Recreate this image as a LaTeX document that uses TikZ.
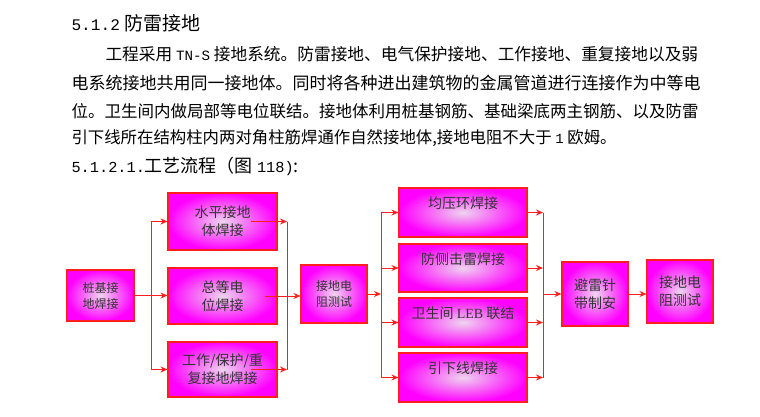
\documentclass[tikz,border=0pt]{standalone}
\usepackage{fontspec}
\setmainfont{Noto Sans CJK SC}
\setmonofont{Liberation Mono}[Scale=0.85]
\newfontfamily\latino{Liberation Serif}
\usepackage{xcolor}
\usepackage{tikz}
\usetikzlibrary{arrows.meta}

\definecolor{bordo}{RGB}{255,30,30}
\definecolor{rosa}{RGB}{238,212,238}
\definecolor{viola}{RGB}{255,0,255}

\begin{document}
\begin{tikzpicture}[x=1pt, y=-1pt, >={Stealth[length=7pt,width=6pt]},
	scatola/.style={draw=bordo, line width=1.1pt, inner color=rosa, outer color=viola, align=center, text=black!80, inner sep=1pt},
	filo/.style={draw=bordo, line width=1pt}]
			
			\useasboundingbox (0,0) rectangle (760,416);
			
			% Testo sopra lo schema
			\node[anchor=base west, font=\fontsize{19}{22}\selectfont] (titolo) at (68,30) {\texttt{5.1.2} 防雷接地};
			\node[anchor=base west, font=\fontsize{16.7}{20}\selectfont] (riga1) at (102,60) {工程采用 \texttt{TN-S} 接地系统。防雷接地、电气保护接地、工作接地、重复接地以及弱};
			\node[anchor=base west, font=\fontsize{17}{20}\selectfont] (riga2) at (68,89) {电系统接地共用同一接地体。同时将各种进出建筑物的金属管道进行连接作为中等电};
			\node[anchor=base west, font=\fontsize{16.5}{20}\selectfont] (riga3) at (68,117) {位。卫生间内做局部等电位联结。接地体利用桩基钢筋、基础梁底两主钢筋、以及防雷};
			\node[anchor=base west, font=\fontsize{16.4}{20}\selectfont] (riga4) at (68,143) {引下线所在结构柱内两对角柱筋焊通作自然接地体,接地电阻不大于 \texttt{1} 欧姆。};
			\node[anchor=base west, font=\fontsize{18}{22}\selectfont] (sottotitolo) at (68,172) {\texttt{5.1.2.1.}工艺流程（图 \texttt{118)}:};
			
			% Prima colonna
			\node[scatola, minimum width=67pt, minimum height=51pt, font=\fontsize{12}{16}\selectfont] (pali) at (100.5,295.5) {桩基接\\地焊接};
			
			% Seconda colonna
			\node[scatola, minimum width=109pt, minimum height=57pt, font=\fontsize{14}{18}\selectfont] (sp) at (222.5,221.5) {水平接地\\体焊接};
			\node[scatola, minimum width=109pt, minimum height=56pt, font=\fontsize{14}{18}\selectfont] (zd) at (222.5,296) {总等电\\位焊接};
			\node[scatola, minimum width=109pt, minimum height=55pt, font=\fontsize{14}{18}\selectfont] (gz) at (222.5,369.5) {工作/保护/重\\复接地焊接};
			
			% Prima prova
			\node[scatola, minimum width=66pt, minimum height=58pt, font=\fontsize{12}{16}\selectfont] (prova1) at (334,294) {接地电\\阻测试};
			
			% Quarta colonna, testo spostato in alto
			\node[scatola, minimum width=128pt, minimum height=49pt, text depth=19pt, font=\fontsize{14}{18}\selectfont] (jy) at (463,212.5) {均压环焊接};
			\node[scatola, minimum width=128pt, minimum height=48pt, text depth=19pt, font=\fontsize{14}{18}\selectfont] (fc) at (463,268) {防侧击雷焊接};
			\node[scatola, minimum width=128pt, minimum height=49pt, text depth=19pt, font=\fontsize{14}{18}\selectfont] (ws) at (463,322.5) {卫生间 {\latino LEB} 联结};
			\node[scatola, minimum width=128pt, minimum height=49pt, text depth=19pt, font=\fontsize{14}{18}\selectfont] (yx) at (463,377.5) {引下线焊接};
			
			% Ultime due
			\node[scatola, minimum width=66pt, minimum height=64pt, font=\fontsize{14}{18}\selectfont] (bl) at (595,294) {避雷针\\带制安};
			\node[scatola, minimum width=66pt, minimum height=63pt, font=\fontsize{14}{18}\selectfont] (prova2) at (680,291.5) {接地电\\阻测试};
			
			% Punti di diramazione
			\coordinate (nodo1) at (151,295.5);
			\coordinate (nodo2) at (287,294);
			\coordinate (nodo3) at (381,294);
			\coordinate (nodo4) at (543,294);
			
			% Frecce verso la seconda colonna
			\draw[filo,->] (pali.east) -- (pali.east -| zd.west);
			\draw[filo,->] (nodo1) |- (sp.west);
			\draw[filo,->] (nodo1) |- (gz.west);
			
			% Frecce verso la prima prova
			\draw[filo,->] ([xshift=-27pt]sp.east) -- (sp.east -| nodo2);
			\draw[filo,->] ([xshift=-27pt]gz.east) -- (gz.east -| nodo2);
			\draw[filo] (sp.east -| nodo2) -- (gz.east -| nodo2);
			\draw[filo,->] ([xshift=-13pt]zd.east) -- (zd.east -| prova1.west);
			
			% Frecce verso la quarta colonna
			\draw[filo,->] (prova1.east) -- (nodo3);
			\draw[filo] (jy.west -| nodo3) -- (yx.west -| nodo3);
			\foreach \n in {jy,fc,ws,yx}
				\draw[filo,->] (nodo3) |- (\n.west);
			
			% Frecce verso il parafulmine
			\foreach \n in {jy,fc,ws,yx}
				\draw[filo,->] (\n.east) -- (\n.east -| nodo4);
			\draw[filo] (jy.east -| nodo4) -- (yx.east -| nodo4);
			\draw[filo,->] (nodo4) -- (nodo4 -| bl.west);
			\draw[filo,->] (bl.east) -- (bl.east -| prova2.west);
			
		\end{tikzpicture}
\end{document}
